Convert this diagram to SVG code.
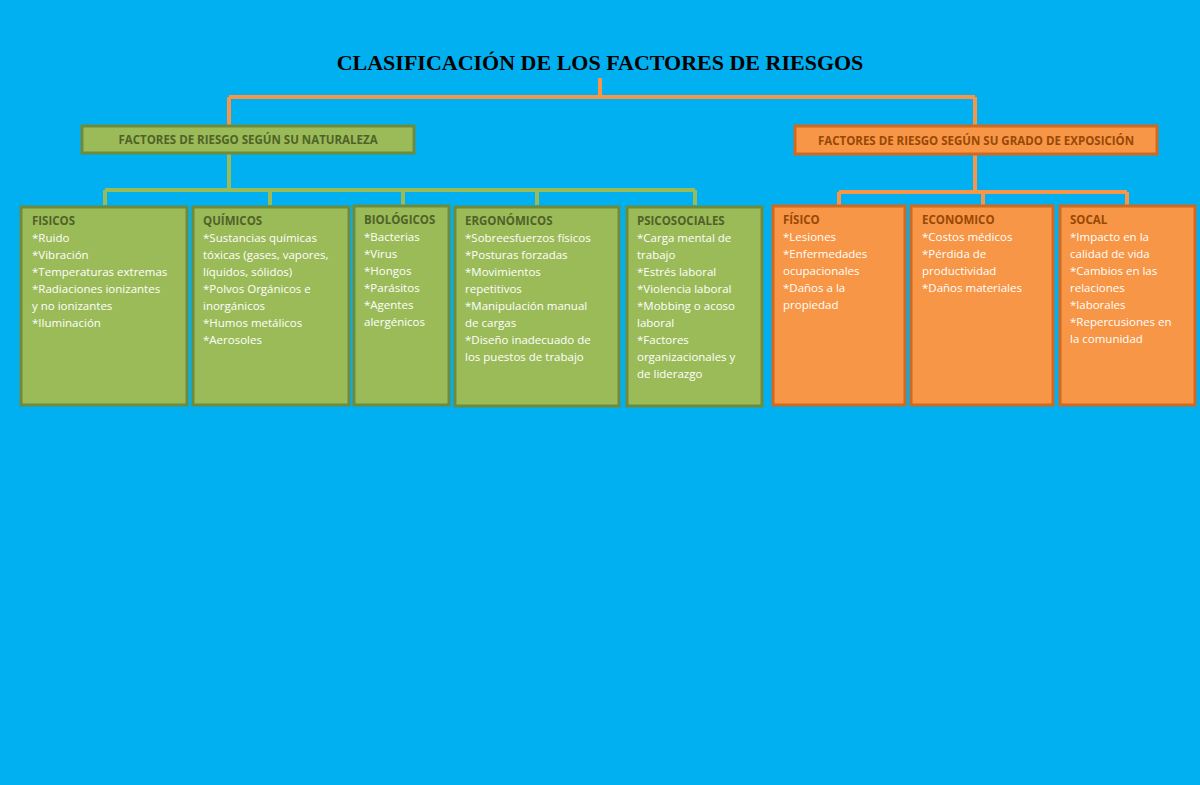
<svg xmlns="http://www.w3.org/2000/svg" width="1200" height="785" viewBox="0 0 1200 785">
<style>
.g{fill:#9BBB59;stroke:#6E8B3D;stroke-width:3}
.o{fill:#F79646;stroke:#D2691E;stroke-width:3}
.cg{stroke:#9BBB59;stroke-width:4;fill:none}
.co{stroke:#F79646;stroke-width:4;fill:none}
text{font-family:"Open Sans","Liberation Sans",sans-serif;font-size:11.5px}
.h{font-weight:bold;fill:#4F6228}
.ho{font-weight:bold;fill:#974806}
.t{fill:#fff}
.title{font-family:"Liberation Serif",serif;font-size:22px;font-weight:bold;fill:#000}
</style>
<rect width="1200" height="785" fill="#00B0F0"/>
<text class="title" x="600" y="70" text-anchor="middle">CLASIFICACIÓN DE LOS FACTORES DE RIESGOS</text>
<g id="connectors">
<path class="co" d="M600 78V97M229 97H975M229 97V125M975 97V125"/>
<path class="cg" d="M229 153V190M105 190H695M105 190V205M270 190V205M403 190V205M537 190V205M695 190V205"/>
<path class="co" d="M975 155V192M839 192H1127M839 192V205M983 192V205M1127 192V205"/>
</g>
<g id="n-naturaleza"><rect class="g" x="82" y="126" width="332" height="27"/><text class="h" x="248" y="144" text-anchor="middle">FACTORES DE RIESGO SEGÚN SU NATURALEZA</text></g>
<g id="n-exposicion"><rect class="o" x="795" y="126" width="362" height="28"/><text class="ho" x="976" y="145" text-anchor="middle">FACTORES DE RIESGO SEGÚN SU GRADO DE EXPOSICIÓN</text></g>
<g id="n-fisicos"><rect class="g" x="21" y="207" width="166" height="198"/><text x="32" y="225"><tspan class="h">FISICOS</tspan><tspan class="t" x="32" dy="17">*Ruido</tspan><tspan class="t" x="32" dy="17">*Vibración</tspan><tspan class="t" x="32" dy="17">*Temperaturas extremas</tspan><tspan class="t" x="32" dy="17">*Radiaciones ionizantes</tspan><tspan class="t" x="32" dy="17">y no ionizantes</tspan><tspan class="t" x="32" dy="17">*Iluminación</tspan></text></g>
<g id="n-quimicos"><rect class="g" x="193" y="207" width="156" height="198"/><text x="203" y="225"><tspan class="h">QUÍMICOS</tspan><tspan class="t" x="203" dy="17">*Sustancias químicas</tspan><tspan class="t" x="203" dy="17">tóxicas (gases, vapores,</tspan><tspan class="t" x="203" dy="17">líquidos, sólidos)</tspan><tspan class="t" x="203" dy="17">*Polvos Orgánicos e</tspan><tspan class="t" x="203" dy="17">inorgánicos</tspan><tspan class="t" x="203" dy="17">*Humos metálicos</tspan><tspan class="t" x="203" dy="17">*Aerosoles</tspan></text></g>
<g id="n-biologicos"><rect class="g" x="354" y="206" width="95" height="199"/><text x="364" y="224"><tspan class="h">BIOLÓGICOS</tspan><tspan class="t" x="364" dy="17">*Bacterias</tspan><tspan class="t" x="364" dy="17">*Virus</tspan><tspan class="t" x="364" dy="17">*Hongos</tspan><tspan class="t" x="364" dy="17">*Parásitos</tspan><tspan class="t" x="364" dy="17">*Agentes</tspan><tspan class="t" x="364" dy="17">alergénicos</tspan></text></g>
<g id="n-ergonomicos"><rect class="g" x="455" y="207" width="164" height="199"/><text x="465" y="225"><tspan class="h">ERGONÓMICOS</tspan><tspan class="t" x="465" dy="17">*Sobreesfuerzos físicos</tspan><tspan class="t" x="465" dy="17">*Posturas forzadas</tspan><tspan class="t" x="465" dy="17">*Movimientos</tspan><tspan class="t" x="465" dy="17">repetitivos</tspan><tspan class="t" x="465" dy="17">*Manipulación manual</tspan><tspan class="t" x="465" dy="17">de cargas</tspan><tspan class="t" x="465" dy="17">*Diseño inadecuado de</tspan><tspan class="t" x="465" dy="17">los puestos de trabajo</tspan></text></g>
<g id="n-psicosociales"><rect class="g" x="627" y="207" width="135" height="199"/><text x="637" y="225"><tspan class="h">PSICOSOCIALES</tspan><tspan class="t" x="637" dy="17">*Carga mental de</tspan><tspan class="t" x="637" dy="17">trabajo</tspan><tspan class="t" x="637" dy="17">*Estrés laboral</tspan><tspan class="t" x="637" dy="17">*Violencia laboral</tspan><tspan class="t" x="637" dy="17">*Mobbing o acoso</tspan><tspan class="t" x="637" dy="17">laboral</tspan><tspan class="t" x="637" dy="17">*Factores</tspan><tspan class="t" x="637" dy="17">organizacionales y</tspan><tspan class="t" x="637" dy="17">de liderazgo</tspan></text></g>
<g id="n-fisico"><rect class="o" x="773" y="206" width="132" height="199"/><text x="783" y="224"><tspan class="ho">FÍSICO</tspan><tspan class="t" x="783" dy="17">*Lesiones</tspan><tspan class="t" x="783" dy="17">*Enfermedades</tspan><tspan class="t" x="783" dy="17">ocupacionales</tspan><tspan class="t" x="783" dy="17">*Daños a la</tspan><tspan class="t" x="783" dy="17">propiedad</tspan></text></g>
<g id="n-economico"><rect class="o" x="911" y="206" width="142" height="199"/><text x="922" y="224"><tspan class="ho">ECONOMICO</tspan><tspan class="t" x="922" dy="17">*Costos médicos</tspan><tspan class="t" x="922" dy="17">*Pérdida de</tspan><tspan class="t" x="922" dy="17">productividad</tspan><tspan class="t" x="922" dy="17">*Daños materiales</tspan></text></g>
<g id="n-social"><rect class="o" x="1060" y="206" width="135" height="199"/><text x="1070" y="224"><tspan class="ho">SOCAL</tspan><tspan class="t" x="1070" dy="17">*Impacto en la</tspan><tspan class="t" x="1070" dy="17">calidad de vida</tspan><tspan class="t" x="1070" dy="17">*Cambios en las</tspan><tspan class="t" x="1070" dy="17">relaciones</tspan><tspan class="t" x="1070" dy="17">*laborales</tspan><tspan class="t" x="1070" dy="17">*Repercusiones en</tspan><tspan class="t" x="1070" dy="17">la comunidad</tspan></text></g>
</svg>
